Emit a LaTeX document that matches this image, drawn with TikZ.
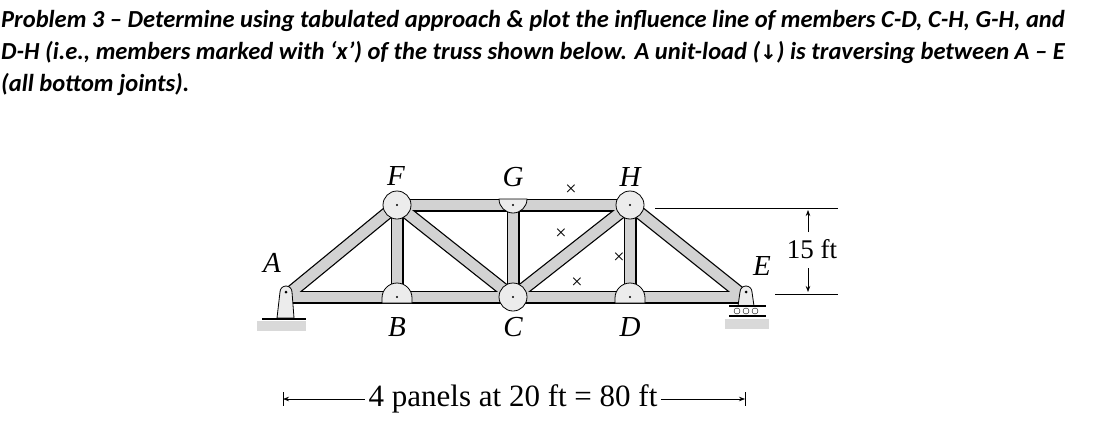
\documentclass[tikz,border=0pt]{standalone}
\usepackage{fontspec}
\setmainfont{Liberation Serif}
\newfontfamily\carl{Carlito}
\newfontfamily\dejav{DejaVu Sans}
\usetikzlibrary{arrows.meta,calc}
\begin{document}
\begin{tikzpicture}[x=1pt,y=-1pt,
  member/.style={line width=13pt,black},
  memberin/.style={line width=10.5pt,gray!35},
  gusset/.style={draw=black,fill=gray!15,line width=0.8pt},
  lbl/.style={font=\itshape\fontsize{29}{29}\selectfont},
  xm/.style={font=\fontsize{20}{20}\selectfont},
  dim/.style={line width=0.7pt}]
\useasboundingbox (0,0) rectangle (1114,434);
\node[anchor=north west,align=left,font=\carl\bfseries\itshape\fontsize{24.5}{32}\selectfont,inner sep=0pt] (title) at (1,10)
{Problem 3 – Determine using tabulated approach \& plot the influence line of members C-D, C-H, G-H, and\\
D-H (i.e., members marked with ‘x’) of the truss shown below. A unit-load ({\dejav\fontsize{20}{20}\selectfont ↓}) is traversing between A – E\\
(all bottom joints).};
\coordinate (A) at (285,297); \coordinate (B) at (397,297); \coordinate (C) at (513,297);
\coordinate (D) at (630,297); \coordinate (E) at (745,297);
\coordinate (F) at (397,205); \coordinate (G) at (513,205); \coordinate (H) at (630,205);
\foreach \p/\q in {A/E,F/H,A/F,F/B,F/C,G/C,C/H,H/D,H/E}{\draw[member] (\p)--(\q);}
\foreach \p/\q in {A/E,F/H,A/F,F/B,F/C,G/C,C/H,H/D,H/E}{\draw[memberin] (\p)--(\q);}
\foreach \j in {F,H,C}{\fill[gusset] (\j) circle (14pt);}
\fill[gusset] ($(G)+(-14,-6)$) -- ++(28,0) arc (0:180:14) -- cycle;
\fill[gusset] ($(B)+(-15,6)$) -- ++(30,0) -- ++(0,-5) arc (0:-180:15) -- cycle;
\fill[gusset] ($(D)+(-15,6)$) -- ++(30,0) -- ++(0,-5) arc (0:-180:15) -- cycle;
\foreach \j in {F,G,H,B,C,D}{\fill (\j) circle (1.2pt);}
% supports
\fill[gusset] (277,318) -- (280,292) arc (180:360:6) -- (294,318) -- cycle;
\fill (286,292) circle (1.5pt);
\draw[line width=1.2pt] (262,319) -- (306,319);
\fill[gray!30] (257,321) rectangle (306,331);
\fill[gusset] (738,306) -- (740,292) arc (180:360:6) -- (754,306) -- cycle;
\fill (746,292) circle (1.5pt);
\draw[line width=1.2pt] (729,306) -- (766,306); \draw[line width=1.2pt] (729,316) -- (766,316);
\foreach \xx in {737,746,755}{\draw[fill=white] (\xx,311) circle (3pt);}
\fill[gray!30] (725,319) rectangle (769,329);
% labels
\node[lbl] (lA) at (272,263) {A};
\node[lbl] (lF) at (396,176) {F};
\node[lbl] (lG) at (513,177) {G};
\node[lbl] (lH) at (630,177) {H};
\node[lbl] (lB) at (397,327) {B};
\node[lbl] (lC) at (513,327) {C};
\node[lbl] (lD) at (630,327) {D};
\node[lbl] (lE) at (762,266) {E};
\node[xm] (x1) at (571,190) {×};
\node[xm] (x2) at (561,234) {×};
\node[xm] (x3) at (619,258) {×};
\node[xm] (x4) at (577,283) {×};
% 15 ft dimension
\coordinate (t1) at (655,208); \coordinate (t2) at (838,208);
\coordinate (b1) at (775,294); \coordinate (b2) at (838,294);
\draw[dim] (t1)--(t2); \draw[dim] (b1)--(b2);
\node[font=\fontsize{27}{27}\selectfont] (ft) at (812,249) {15 ft};
\draw[dim,-{Stealth[length=6pt]}] (808,232) -- (808,210);
\draw[dim,-{Stealth[length=6pt]}] (808,268) -- (808,292);
% 80 ft dimension
\node[font=\fontsize{31}{31}\selectfont] (pn) at (513,399) {4 panels at 20 ft = 80 ft};
\draw[dim] (283,392) -- (283,406); \draw[dim] (745,392) -- (745,406);
\draw[dim,{Stealth[length=6pt]}-] (283,399) -- (pn.west);
\draw[dim,-{Stealth[length=6pt]}] (pn.east) -- (745,399);
\end{tikzpicture}
\end{document}
